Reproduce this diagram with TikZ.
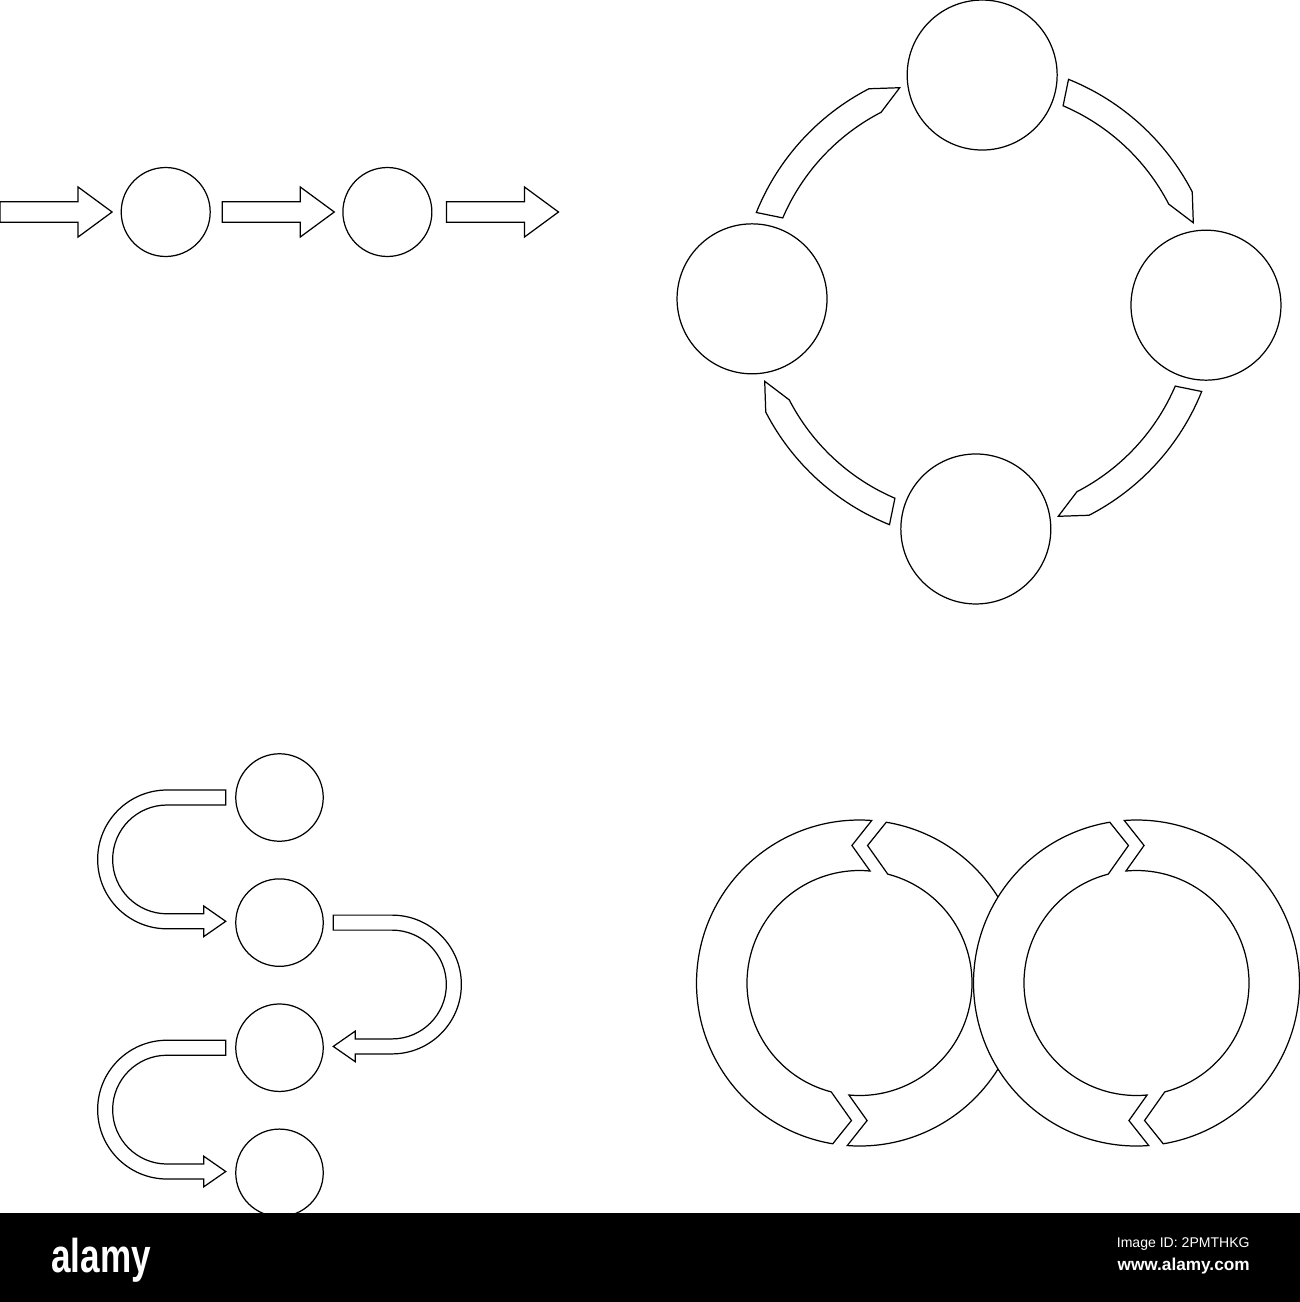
\documentclass[tikz,border=0pt]{standalone}
\usepackage{fontspec}
\usepackage{graphicx}
\newfontfamily\bandfont{Liberation Sans}
\usetikzlibrary{positioning,calc}

\tikzset{
  dot/.style={draw, circle, line width=0.7pt, inner sep=0pt},
  flow/.style={draw, fill=white, line width=0.7pt, line join=miter},
  % straight block arrow, tip at the origin
  blockarrow/.pic={
    \draw[flow] (0,0) -- (-34,-25) -- (-34,-10.3) -- (-112,-10.3)
      -- (-112,10.3) -- (-34,10.3) -- (-34,25) -- cycle;
  },
  % u-turn arrow, tail at the origin
  uturn/.pic={
    \draw[flow] (0,-7.5) -- (-58.7,-7.5)
      arc[start angle=-90, end angle=-270, radius=69.4]
      -- (-22,131.3) -- (-22,139.1) -- (0,123.8) -- (-22,108.5) -- (-22,116.3)
      -- (-58.7,116.3) arc[start angle=90, end angle=270, radius=54.4]
      -- (0,7.5) -- cycle;
  },
  % one ring of the infinity loop, two chevron pieces
  loopring/.pic={
    \foreach \a in {0,180}
      \draw[flow] ({85.7+\a}:163) arc[start angle=85.7+\a, end angle=260.55+\a, radius=163]
        -- ({266.65+\a}:137.75) -- ({255.45+\a}:112.5)
        arc[start angle=255.45+\a, end angle=84.6+\a, radius=112.5]
        -- ({93.15+\a}:137.75) -- cycle;
  }
}

\begin{document}
\begin{tikzpicture}[x=0.02cm, y=-0.02cm]
\useasboundingbox (0,0) rectangle (1300,1302);
\fill[white] (0,0) rectangle (1300,1302);

% row of steps
\node[dot, minimum size=1.78cm] (c1) at (165.7,212) {};
\node[dot, minimum size=1.78cm, right=2.63cm of c1] (c2) {};
\pic at ($(c1.west)+(-8.5,0)$) {blockarrow};
\pic at ($(c2.west)+(-8,0)$) {blockarrow};
\pic at ($(c2.east)+(126,0)$) {blockarrow};

% cycle of four
\begin{scope}[shift={(979,302)}, yscale=-1]
  \foreach \ang/\name in {89.2/ringtop, -0.8/ringright, -90.8/ringbottom, 179.2/ringleft}
    \node[dot, minimum size=3cm] (\name) at (\ang:227) {};
  \foreach \a in {0,90,180,270}
    \draw[flow] ({68.1+\a}:240) arc[start angle=68.1+\a, end angle=27.3+\a, radius=240]
      -- ({20.3+\a}:228.5) -- ({27.3+\a}:213.5)
      arc[start angle=27.3+\a, end angle=66.8+\a, radius=213.5] -- cycle;
\end{scope}

% zigzag flow
\node[dot, minimum size=1.75cm] (s1) at (279.5,797.5) {};
\node[dot, minimum size=1.75cm, below=0.728cm of s1] (s2) {};
\node[dot, minimum size=1.75cm, below=0.728cm of s2] (s3) {};
\node[dot, minimum size=1.75cm, below=0.728cm of s3] (s4) {};
\pic at ($(s1.west)+(-9.4,0)$) {uturn};
\pic[xscale=-1] at ($(s2.east)+(9.4,0)$) {uturn};
\pic at ($(s3.west)+(-9.4,0)$) {uturn};

% infinity loop
\pic[yscale=-1] at (859.5,983) {loopring};
\pic[xscale=-1, yscale=-1] at (1136.5,983) {loopring};

% band
\fill[black] (0,1213) rectangle (1300,1302);
\node[anchor=base west, inner sep=0pt, text=white, font=\bandfont\bfseries\fontsize{27}{27}\selectfont] (logo) at (51,1272) {\scalebox{0.74}[1]{alamy}};
\node[anchor=base east, inner sep=0pt, text=white, font=\bandfont\fontsize{8}{9}\selectfont] (imgid) at (1250,1247) {Image ID: 2PMTHKG};
\node[anchor=base east, inner sep=0pt, text=white, font=\bandfont\bfseries\fontsize{9.8}{11}\selectfont] (site) at (1250,1270) {www.alamy.com};
\end{tikzpicture}
\end{document}
